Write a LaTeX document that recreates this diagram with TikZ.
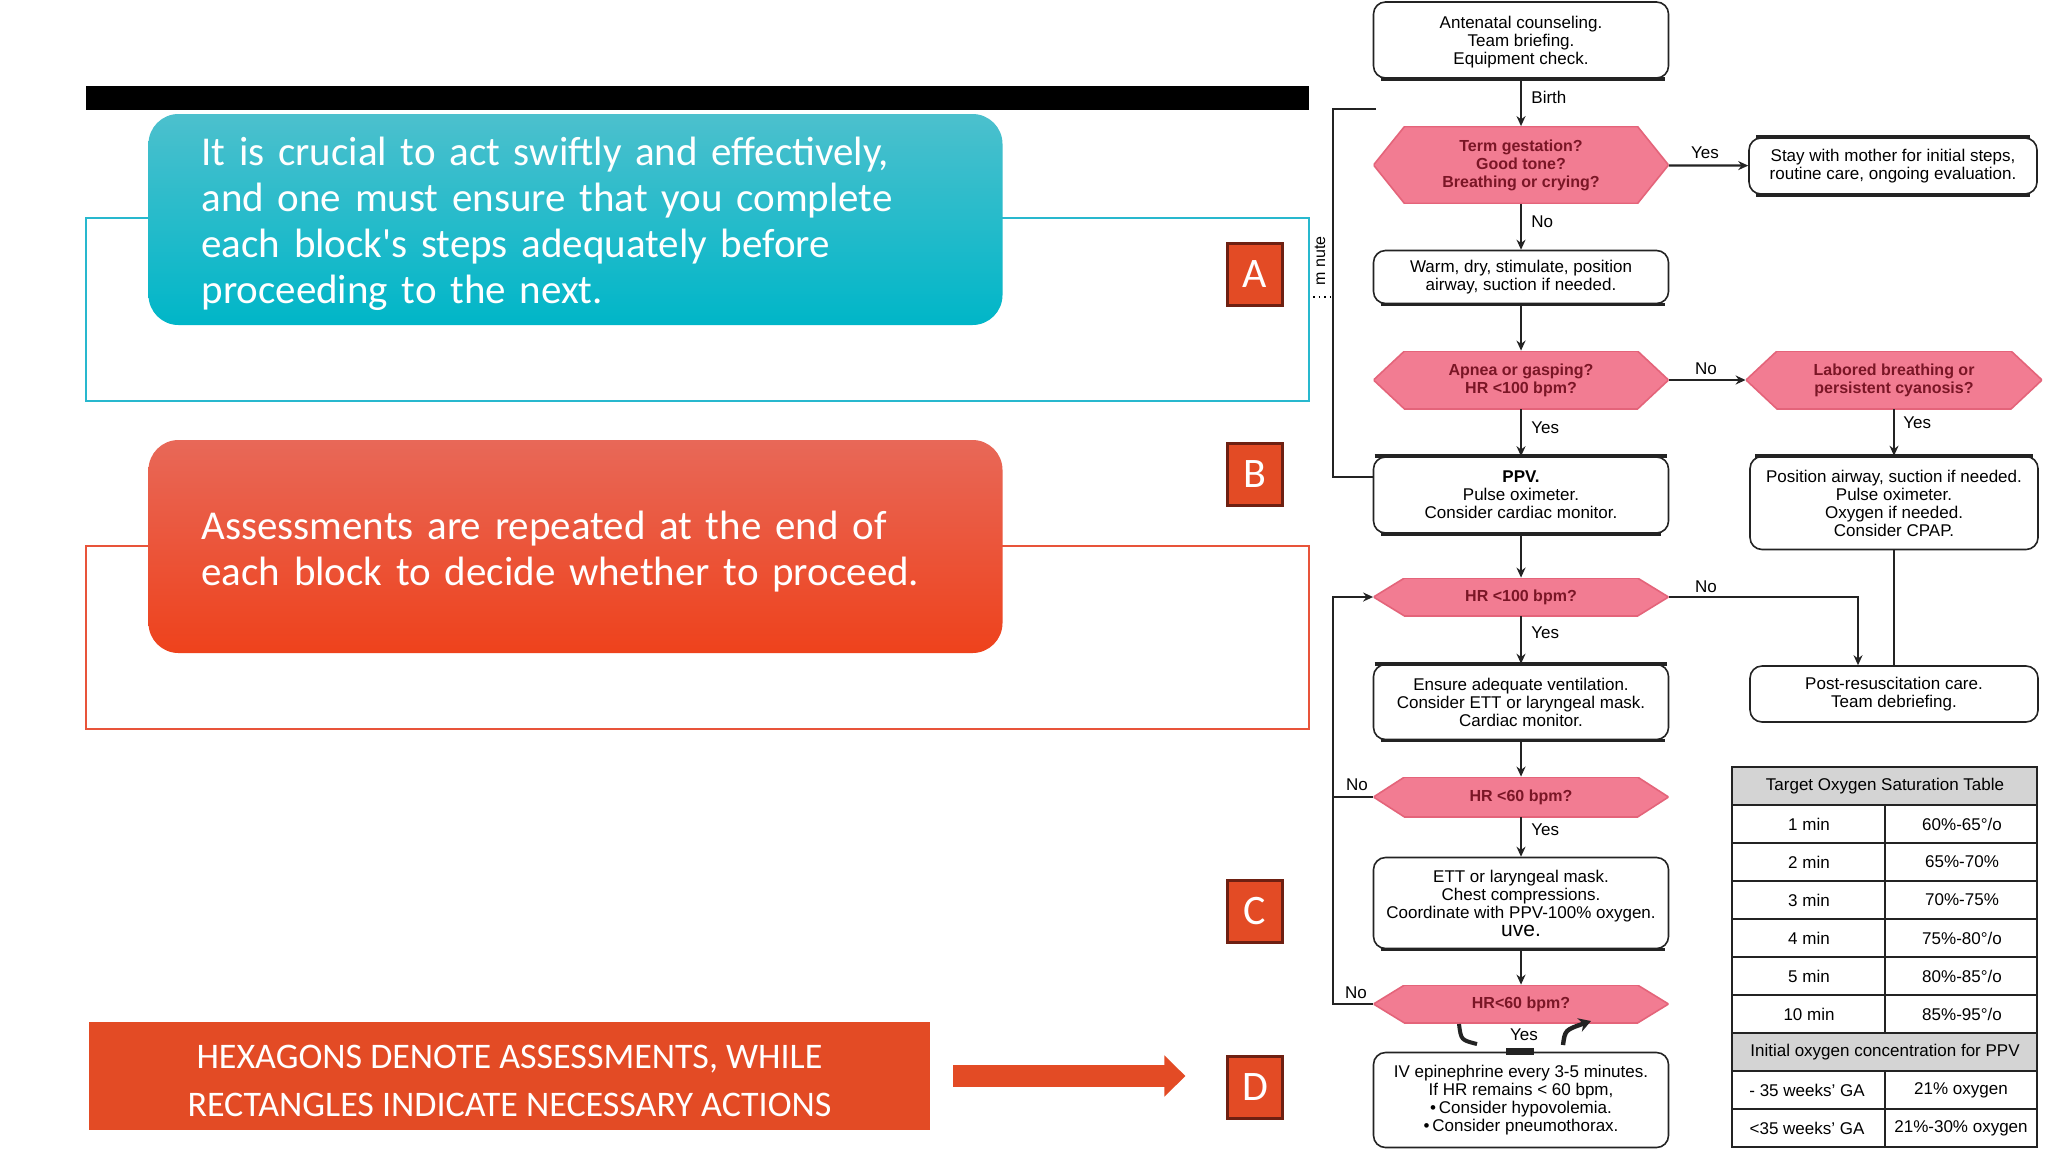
\documentclass[tikz,border=0pt]{standalone}
\usepackage{fontspec}
\setmainfont{Liberation Sans}
\newfontfamily\calib{Carlito}
\usetikzlibrary{arrows.meta,calc}
\definecolor{tealtop}{RGB}{76,192,205}
\definecolor{tealbot}{RGB}{0,182,200}
\definecolor{cyanline}{RGB}{40,184,206}
\definecolor{redtop}{RGB}{232,104,88}
\definecolor{redbot}{RGB}{238,66,28}
\definecolor{redline}{RGB}{232,84,58}
\definecolor{orangebox}{RGB}{227,75,37}
\definecolor{labelborder}{RGB}{110,32,18}
\definecolor{hexpink}{RGB}{242,124,146}
\definecolor{hexedge}{RGB}{228,100,122}
\definecolor{hextext}{RGB}{122,22,38}
\definecolor{tablegray}{RGB}{212,212,212}
\definecolor{lineblack}{RGB}{35,35,35}
\tikzset{
  conn/.style={draw=lineblack, line width=1.1pt},
  arr/.style={conn, -{Stealth[length=5pt,width=4.5pt]}},
  actbox/.style={draw=lineblack, line width=0.8pt, rounded corners=6pt, fill=white, align=center, inner sep=0pt, font=\fontsize{8.5}{9}\selectfont},
  sz/.style n args={2}{minimum width={#1*0.5pt}, minimum height={#2*0.5pt}},
  hexa/.style={rectangle, inner sep=0pt, align=center, text=hextext,
    font=\bfseries\fontsize{8}{9}\selectfont,
    path picture={\filldraw[fill=hexpink, draw=hexedge, line width=0.8pt]
      (path picture bounding box.west)
      -- ([xshift=15.5pt]path picture bounding box.north west)
      -- ([xshift=-15.5pt]path picture bounding box.north east)
      -- (path picture bounding box.east)
      -- ([xshift=-15.5pt]path picture bounding box.south east)
      -- ([xshift=15.5pt]path picture bounding box.south west) -- cycle;}},
  thickedge/.style={draw=lineblack, line width=1.8pt},
  flab/.style={inner sep=0pt, font=\fontsize{8.5}{9}\selectfont},
  tabline/.style={draw=lineblack, line width=1.4pt},
  tabtxt/.style={inner sep=0pt, font=\fontsize{8.5}{9}\selectfont},
  lblsq/.style={fill=orangebox, draw=labelborder, line width=1.5pt, minimum width=27.5pt, minimum height=31pt, inner sep=0pt, text=white, font=\calib\fontsize{21}{21}\selectfont},
  bigtxt/.style={text=white, align=left, font=\calib\fontsize{20.5}{23}\selectfont, inner xsep=26.5pt, inner ysep=0pt, text width=374pt, rounded corners=15pt},
}
\begin{document}
\begin{tikzpicture}[x=0.5pt,y=-0.5pt]
\useasboundingbox (0,0) rectangle (2048,1152);
\fill[white] (0,0) rectangle (2048,1152);

% ---------- left panel ----------
\fill[black] (86,86) rectangle (1309,110);
\draw[cyanline, line width=1.2pt] (86,218) rectangle (1309,401);
\draw[redline, line width=1.2pt] (86,546) rectangle (1309,729);

\node[bigtxt, top color=tealtop, bottom color=tealbot, minimum height=105.5pt] (teal) at (575.5,219.5)
  {\rule{0pt}{18.4pt}It is crucial to act swiftly and effectively,\\and one must ensure that you complete\\each block's steps adequately before\\proceeding to the next.};
\node[bigtxt, top color=redtop, bottom color=redbot, minimum height=106.5pt] (redb) at (575.5,546.5)
  {\rule{0pt}{19.4pt}Assessments are repeated at the end of\\each block to decide whether to proceed.};

\node[fill=orangebox, text=white, align=center, font=\calib\fontsize{18}{24.5}\selectfont,
  minimum width=420.5pt, minimum height=54pt, inner sep=0pt] (bot) at (509.5,1076)
  {\rule{0pt}{16.6pt}HEXAGONS DENOTE ASSESSMENTS, WHILE\\RECTANGLES INDICATE NECESSARY ACTIONS};
\draw[orangebox, line width=11pt, -{Triangle[length=10.5pt,width=20pt]}]
  ($(bot.east)+(23,0)$) -- ($(bot.east)+(255,0)$);

\node[lblsq] (la) at (1255,274) {A};
\node[lblsq] (lb) at (1255,474) {B};
\node[lblsq] (lc) at (1255,911) {C};
\node[lblsq] (ld) at (1255,1087) {D};

% ---------- flowchart ----------
\node[actbox, sz={295}{76}] (b1) at (1521,40) {\rule{0pt}{8pt}Antenatal counseling.\\Team briefing.\\Equipment check.};
\node[hexa, sz={295}{77}] (h1) at (1521,165) {Term gestation?\\Good tone?\\Breathing or crying?};
\node[actbox, sz={288}{56}] (stay) at (1893,166) {Stay with mother for initial steps,\\routine care, ongoing evaluation.};
\node[actbox, sz={295}{53}] (warm) at (1521,277) {Warm, dry, stimulate, position\\airway, suction if needed.};
\node[hexa, sz={295}{58}] (h2) at (1521,380) {Apnea or gasping?\\HR <100 bpm?};
\node[hexa, sz={296}{58}] (h3) at (1894,380) {Labored breathing or\\persistent cyanosis?};
\node[actbox, sz={295}{76}] (ppv) at (1521,495) {\textbf{PPV.}\\Pulse oximeter.\\Consider cardiac monitor.};
\node[actbox, sz={288}{93}] (pos) at (1894,503) {Position airway, suction if needed.\\Pulse oximeter.\\Oxygen if needed.\\Consider CPAP.};
\node[hexa, sz={295}{38}] (h4) at (1521,597) {HR <100 bpm?};
\node[actbox, sz={288}{56}] (post) at (1894,694) {Post-resuscitation care.\\Team debriefing.};
\node[actbox, sz={295}{75}] (ens) at (1521,702) {Ensure adequate ventilation.\\Consider ETT or laryngeal mask.\\Cardiac monitor.};
\node[hexa, sz={295}{40}] (h5) at (1521,797) {HR <60 bpm?};
\node[actbox, sz={295}{91}] (ett) at (1521,903) {ETT or laryngeal mask.\\Chest compressions.\\Coordinate with PPV-100\% oxygen.\\{\fontsize{10.5}{10}\selectfont uve.}};
\node[hexa, sz={295}{38}] (h6) at (1521,1004) {HR<60 bpm?};
\node[actbox, sz={295}{95}] (iv) at (1521,1100) {IV epinephrine every 3-5 minutes.\\If HR remains < 60 bpm,\\\textbullet\,Consider hypovolemia.\\\textbullet\,Consider pneumothorax.};

% thick scan edges
\draw[thickedge] ([xshift=4pt]b1.south west) -- ([xshift=-2pt]b1.south east);
\draw[thickedge] ([xshift=4pt]stay.north west) -- ([xshift=-4pt]stay.north east);
\draw[thickedge] ([xshift=4pt]stay.south west) -- ([xshift=-4pt]stay.south east);
\draw[thickedge] ([xshift=4pt]warm.south west) -- ([xshift=-2pt]warm.south east);
\draw[thickedge] ([xshift=1pt]ppv.north west) -- ([xshift=-1pt]ppv.north east);
\draw[thickedge] ([xshift=4pt]ppv.south west) -- ([xshift=-4pt]ppv.south east);
\draw[thickedge] ([xshift=3pt]pos.north west) -- ([xshift=-3pt]pos.north east);
\draw[thickedge] ([xshift=1pt]ens.north west) -- ([xshift=-1pt]ens.north east);
\draw[thickedge] ([xshift=4pt]ens.south west) -- ([xshift=-2pt]ens.south east);
\draw[thickedge] ([xshift=4pt]ett.south west) -- ([xshift=-2pt]ett.south east);

% connectors
\draw[arr] (b1) -- (h1);
\draw[arr] (h1) -- (warm);
\draw[arr] (warm) -- (h2);
\draw[arr] (h2) -- (ppv);
\draw[arr] (ppv) -- (h4);
\draw[arr] (h4) -- (ens);
\draw[arr] (ens) -- (h5);
\draw[arr] (h5) -- (ett);
\draw[arr] (ett) -- (h6);
\draw[arr] (h1) -- (stay);
\draw[arr] (h2) -- (h3);
\draw[arr] (h3) -- (pos);
\draw[conn] (pos) -- (post);
\coordinate (pnin) at ($(post.north)+(-36,0)$);
\draw[arr] (h4.east) -| (pnin);

\coordinate (lx) at (1333,0);
\coordinate (ltop) at (1376,109);
\coordinate (pin) at ($(ppv.west)+(0,-18)$);
\draw[conn] (ltop) -- (ltop -| lx) -- (pin -| lx) -- (pin);
\draw[arr] (h6.west) -- (h6.west -| lx) |- (h4.west);
\draw[conn] (h5.west) -- (h5.west -| lx);
\node[rotate=90, inner sep=0pt, font=\fontsize{8}{8}\selectfont] (mnute) at (1320,261) {m nute};
\draw[dotted, line width=0.8pt] (1313,297) -- (1333,297);

% labels
\node[flab, anchor=west] (l1) at (1531,97) {Birth};
\node[flab, anchor=west] (l2) at (1531,222) {No};
\node[flab] (l3) at (1705,153) {Yes};
\node[flab] (l4) at (1706,369) {No};
\node[flab, anchor=west] (l5) at (1531,428) {Yes};
\node[flab, anchor=west] (l6) at (1903,423) {Yes};
\node[flab] (l7) at (1706,587) {No};
\node[flab, anchor=west] (l8) at (1531,633) {Yes};
\node[flab, anchor=west] (l9) at (1531,830) {Yes};
\node[flab] (l10) at (1357,785) {No};
\node[flab] (l11) at (1356,993) {No};
\node[flab] (l12) at (1524,1035) {Yes};

% scan marks under last hexagon
\draw[lineblack, line width=2pt] (1459,1024) .. controls (1461,1040) .. (1477,1044);
\draw[lineblack, line width=2.2pt, -{Stealth[length=6pt,width=7pt]}] (1563,1045) .. controls (1565,1030) .. (1591,1021);
\fill[lineblack] (1506,1048) rectangle (1534,1055);

% ---------- table ----------
\fill[tablegray] (1732,767) rectangle (2037,805);
\fill[tablegray] (1732,1033) rectangle (2037,1071);
\foreach \yy in {805,843,881,919,957,995,1033,1071,1109} \draw[tabline] (1732,\yy) -- (2037,\yy);
\draw[tabline] (1885,805) -- (1885,1033);
\draw[tabline] (1885,1071) -- (1885,1147);
\draw[tabline] (1732,767) rectangle (2037,1147);

\node[tabtxt] (th1) at (1885,786) {Target Oxygen Saturation Table};
\node[tabtxt] (ta1) at (1809,824) {1 min};
\node[tabtxt] (tb1) at (1962,824) {60\%-65°/o};
\node[tabtxt] (ta2) at (1809,862) {2 min};
\node[tabtxt] (tb2) at (1962,862) {65\%-70\%};
\node[tabtxt] (ta3) at (1809,900) {3 min};
\node[tabtxt] (tb3) at (1962,900) {70\%-75\%};
\node[tabtxt] (ta4) at (1809,938) {4 min};
\node[tabtxt] (tb4) at (1962,938) {75\%-80°/o};
\node[tabtxt] (ta5) at (1809,976) {5 min};
\node[tabtxt] (tb5) at (1962,976) {80\%-85°/o};
\node[tabtxt] (ta6) at (1809,1014) {10 min};
\node[tabtxt] (tb6) at (1962,1014) {85\%-95°/o};
\node[tabtxt] (th2) at (1885,1052) {Initial oxygen concentration for PPV};
\node[tabtxt] (ta7) at (1807,1090) {- 35 weeks' GA};
\node[tabtxt] (tb7) at (1961,1090) {21\% oxygen};
\node[tabtxt] (ta8) at (1807,1128) {<35 weeks' GA};
\node[tabtxt] (tb8) at (1961,1128) {21\%-30\% oxygen};
\end{tikzpicture}
\end{document}
